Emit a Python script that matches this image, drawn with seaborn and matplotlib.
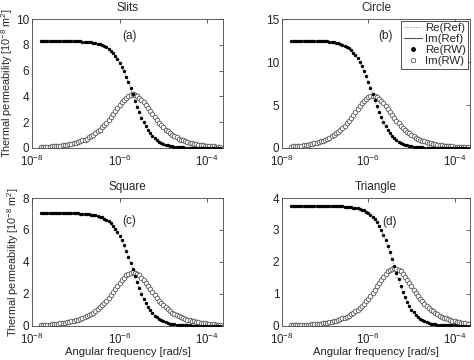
import numpy as np
import matplotlib
matplotlib.use("Agg")
import matplotlib.pyplot as plt
from matplotlib.lines import Line2D
import seaborn as sns

# angular frequency grid, as log10(omega) of each marker
log_omega = [-7.80, -7.75, -7.70, -7.65, -7.60, -7.55, -7.50, -7.45, -7.40, -7.35,
             -7.30, -7.25, -7.20, -7.15, -7.10, -7.05, -7.00, -6.95, -6.90, -6.85,
             -6.80, -6.75, -6.70, -6.65, -6.60, -6.55, -6.50, -6.45, -6.40, -6.35,
             -6.30, -6.25, -6.20, -6.15, -6.10, -6.05, -6.00, -5.95, -5.90, -5.85,
             -5.80, -5.75, -5.70, -5.65, -5.60, -5.55, -5.50, -5.45, -5.40, -5.35,
             -5.30, -5.25, -5.20, -5.15, -5.10, -5.05, -5.00, -4.95, -4.90, -4.85,
             -4.80, -4.75, -4.70, -4.65, -4.60, -4.55, -4.50, -4.45, -4.40, -4.35,
             -4.30, -4.25, -4.20, -4.15, -4.10, -4.05, -4.00, -3.95, -3.90, -3.85,
             -3.80, -3.75, -3.70]

# thermal permeability, 1e-8 m^2
slits_re = [8.30, 8.30, 8.30, 8.30, 8.30, 8.30, 8.30, 8.30, 8.30, 8.29,
            8.29, 8.29, 8.29, 8.29, 8.29, 8.28, 8.28, 8.27, 8.27, 8.26,
            8.25, 8.23, 8.22, 8.20, 8.17, 8.14, 8.10, 8.05, 7.98, 7.90,
            7.81, 7.69, 7.55, 7.37, 7.16, 6.92, 6.63, 6.31, 5.94, 5.53,
            5.09, 4.63, 4.15, 3.67, 3.21, 2.77, 2.36, 1.99, 1.67, 1.38,
            1.14, 0.93, 0.75, 0.61, 0.49, 0.40, 0.32, 0.25, 0.20, 0.16,
            0.13, 0.10, 0.08, 0.07, 0.05, 0.04, 0.03, 0.03, 0.02, 0.02,
            0.01, 0.01, 0.01, 0.01, 0.01, 0.00, 0.00, 0.00, 0.00, 0.00,
            0.00, 0.00, 0.00]
slits_im = [0.07, 0.07, 0.08, 0.09, 0.10, 0.12, 0.13, 0.15, 0.17, 0.19,
            0.21, 0.23, 0.26, 0.29, 0.33, 0.37, 0.42, 0.47, 0.52, 0.58,
            0.65, 0.73, 0.82, 0.92, 1.03, 1.15, 1.28, 1.43, 1.59, 1.77,
            1.96, 2.17, 2.39, 2.62, 2.85, 3.09, 3.33, 3.55, 3.74, 3.91,
            4.04, 4.12, 4.15, 4.12, 4.04, 3.91, 3.74, 3.55, 3.33, 3.09,
            2.85, 2.62, 2.39, 2.17, 1.96, 1.77, 1.59, 1.43, 1.28, 1.15,
            1.03, 0.92, 0.82, 0.73, 0.65, 0.58, 0.52, 0.47, 0.42, 0.37,
            0.33, 0.29, 0.26, 0.23, 0.21, 0.19, 0.17, 0.15, 0.13, 0.12,
            0.10, 0.09, 0.08]

circle_re = [12.50, 12.50, 12.50, 12.50, 12.49, 12.49, 12.49, 12.49, 12.49, 12.48,
             12.48, 12.48, 12.47, 12.46, 12.45, 12.44, 12.42, 12.40, 12.38, 12.35,
             12.31, 12.26, 12.19, 12.12, 12.02, 11.90, 11.76, 11.58, 11.36, 11.10,
             10.79, 10.42, 9.99, 9.50, 8.94, 8.33, 7.66, 6.97, 6.25, 5.53,
             4.84, 4.17, 3.56, 3.00, 2.51, 2.08, 1.71, 1.40, 1.14, 0.92,
             0.74, 0.60, 0.48, 0.38, 0.31, 0.25, 0.20, 0.16, 0.12, 0.10,
             0.08, 0.06, 0.05, 0.04, 0.03, 0.03, 0.02, 0.02, 0.01, 0.01,
             0.01, 0.01, 0.01, 0.00, 0.00, 0.00, 0.00, 0.00, 0.00, 0.00,
             0.00, 0.00, 0.00]
circle_im = [0.15, 0.17, 0.19, 0.22, 0.24, 0.27, 0.31, 0.34, 0.39, 0.43,
             0.49, 0.55, 0.61, 0.69, 0.77, 0.86, 0.96, 1.08, 1.21, 1.35,
             1.51, 1.69, 1.89, 2.11, 2.34, 2.60, 2.89, 3.19, 3.51, 3.84,
             4.19, 4.54, 4.89, 5.21, 5.50, 5.75, 5.94, 6.06, 6.10, 6.06,
             5.94, 5.75, 5.50, 5.21, 4.89, 4.54, 4.19, 3.84, 3.51, 3.19,
             2.89, 2.60, 2.34, 2.11, 1.89, 1.69, 1.51, 1.35, 1.21, 1.08,
             0.96, 0.86, 0.77, 0.69, 0.61, 0.55, 0.49, 0.43, 0.39, 0.34,
             0.31, 0.27, 0.24, 0.22, 0.19, 0.17, 0.15, 0.14, 0.12, 0.11,
             0.10, 0.09, 0.08]

square_re = [7.05, 7.05, 7.05, 7.05, 7.05, 7.05, 7.05, 7.05, 7.05, 7.05,
             7.05, 7.04, 7.04, 7.04, 7.04, 7.04, 7.03, 7.03, 7.02, 7.01,
             7.01, 6.99, 6.98, 6.96, 6.94, 6.91, 6.88, 6.83, 6.78, 6.71,
             6.63, 6.53, 6.41, 6.26, 6.09, 5.88, 5.63, 5.36, 5.04, 4.70,
             4.32, 3.93, 3.53, 3.12, 2.73, 2.35, 2.01, 1.69, 1.42, 1.17,
             0.96, 0.79, 0.64, 0.52, 0.42, 0.34, 0.27, 0.22, 0.17, 0.14,
             0.11, 0.09, 0.07, 0.06, 0.04, 0.04, 0.03, 0.02, 0.02, 0.01,
             0.01, 0.01, 0.01, 0.00, 0.00, 0.00, 0.00, 0.00, 0.00, 0.00,
             0.00, 0.00, 0.00]
square_im = [0.05, 0.06, 0.07, 0.08, 0.08, 0.09, 0.11, 0.12, 0.13, 0.15,
             0.17, 0.19, 0.21, 0.24, 0.27, 0.30, 0.34, 0.38, 0.42, 0.47,
             0.53, 0.59, 0.66, 0.74, 0.83, 0.93, 1.04, 1.16, 1.29, 1.43,
             1.58, 1.75, 1.93, 2.11, 2.30, 2.49, 2.68, 2.86, 3.02, 3.16,
             3.26, 3.33, 3.35, 3.33, 3.26, 3.16, 3.02, 2.86, 2.68, 2.49,
             2.30, 2.11, 1.93, 1.75, 1.58, 1.43, 1.29, 1.16, 1.04, 0.93,
             0.83, 0.74, 0.66, 0.59, 0.53, 0.47, 0.42, 0.38, 0.34, 0.30,
             0.27, 0.24, 0.21, 0.19, 0.17, 0.15, 0.13, 0.12, 0.11, 0.09,
             0.08, 0.08, 0.07]

triangle_re = [3.75, 3.75, 3.75, 3.75, 3.75, 3.75, 3.75, 3.75, 3.75, 3.75,
               3.75, 3.75, 3.75, 3.75, 3.75, 3.75, 3.75, 3.75, 3.75, 3.75,
               3.74, 3.74, 3.74, 3.74, 3.74, 3.73, 3.73, 3.72, 3.71, 3.70,
               3.69, 3.68, 3.66, 3.63, 3.61, 3.57, 3.53, 3.47, 3.41, 3.33,
               3.24, 3.13, 3.00, 2.85, 2.68, 2.50, 2.30, 2.09, 1.88, 1.66,
               1.45, 1.25, 1.07, 0.90, 0.75, 0.62, 0.51, 0.42, 0.34, 0.28,
               0.22, 0.18, 0.14, 0.12, 0.09, 0.07, 0.06, 0.05, 0.04, 0.03,
               0.02, 0.02, 0.01, 0.01, 0.01, 0.01, 0.01, 0.00, 0.00, 0.00,
               0.00, 0.00, 0.00]
triangle_im = [0.01, 0.02, 0.02, 0.02, 0.02, 0.03, 0.03, 0.03, 0.04, 0.04,
               0.05, 0.05, 0.06, 0.06, 0.07, 0.08, 0.09, 0.10, 0.11, 0.13,
               0.14, 0.16, 0.18, 0.20, 0.23, 0.25, 0.28, 0.32, 0.36, 0.40,
               0.45, 0.50, 0.56, 0.62, 0.69, 0.77, 0.85, 0.94, 1.04, 1.13,
               1.24, 1.34, 1.44, 1.54, 1.62, 1.70, 1.75, 1.79, 1.80, 1.79,
               1.75, 1.70, 1.62, 1.54, 1.44, 1.34, 1.24, 1.13, 1.04, 0.94,
               0.85, 0.77, 0.69, 0.62, 0.56, 0.50, 0.45, 0.40, 0.36, 0.32,
               0.28, 0.25, 0.23, 0.20, 0.18, 0.16, 0.14, 0.13, 0.11, 0.10,
               0.09, 0.08, 0.07]

titles = ['Slits', 'Circle', 'Square', 'Triangle']
tags = ['(a)', '(b)', '(c)', '(d)']
ylims = [10, 15, 8, 4]
yticks = [[0, 2, 4, 6, 8, 10], [0, 5, 10, 15], [0, 2, 4, 6, 8], [0, 1, 2, 3, 4]]
series = [(slits_re, slits_im), (circle_re, circle_im),
          (square_re, square_im), (triangle_re, triangle_im)]

sns.set_style("white")
plt.rcParams['font.family'] = ['Liberation Sans', 'DejaVu Sans']
plt.rcParams['mathtext.fontset'] = 'custom'
plt.rcParams['mathtext.rm'] = 'Liberation Sans'
plt.rcParams['mathtext.it'] = 'Liberation Sans:italic'
plt.rcParams['font.size'] = 8

omega = 10.0 ** np.array(log_omega)

fig = plt.figure(figsize=(4.74, 3.6), dpi=100)
# axes boxes in figure fractions
boxes = [[0.0675, 0.589, 0.403, 0.358], [0.595, 0.589, 0.397, 0.358],
         [0.0675, 0.095, 0.403, 0.355], [0.595, 0.095, 0.397, 0.355]]
tagpos = [(0.51, 0.87), (0.55, 0.87), (0.51, 0.82), (0.57, 0.81)]

for i in range(4):
    ax = fig.add_axes(boxes[i])
    re, im = series[i]
    sns.lineplot(x=omega, y=re, ax=ax, color='#8a8a8a', linestyle=':', linewidth=0.8, zorder=1)
    sns.lineplot(x=omega, y=im, ax=ax, color='#8a8a8a', linestyle='-', linewidth=0.6, zorder=1)
    sns.scatterplot(x=omega, y=im, ax=ax, marker='o', s=11, facecolor='white',
                    edgecolor='#555555', linewidth=0.6, zorder=2)
    sns.scatterplot(x=omega, y=re, ax=ax, marker='o', s=6, color='black',
                    edgecolor='black', linewidth=0, zorder=3)
    ax.set_xscale('log')
    ax.set_xlim(1e-8, 2.3e-4)
    ax.set_ylim(0, ylims[i])
    ax.set_xticks([1e-8, 1e-6, 1e-4])
    ax.minorticks_off()
    ax.set_yticks(yticks[i])
    ax.tick_params(direction='in', length=3, width=0.5, top=True, right=True,
                   labelsize=8.5, pad=2, colors='#222222')
    ax.tick_params(axis='x', pad=4.5, labelsize=8.3)
    for sp in ax.spines.values():
        sp.set_linewidth(0.6)
        sp.set_color('#444444')
    ax.set_title(titles[i], fontsize=8.5, pad=6)
    ax.text(tagpos[i][0], tagpos[i][1], tags[i], transform=ax.transAxes,
            ha='center', va='center', fontsize=8.5)
    if i in (0, 2):
        ax.set_ylabel('Thermal permeability [10$^{-8}$ m$^{2}$]', fontsize=7.8, labelpad=1)
    else:
        ax.set_ylabel('')
    if i in (2, 3):
        ax.set_xlabel('Angular frequency [rad/s]', fontsize=8.1, labelpad=0)
    else:
        ax.set_xlabel('')
    if i == 1:
        handles = [Line2D([], [], color='#8a8a8a', linestyle=':', linewidth=0.8),
                   Line2D([], [], color='#555555', linestyle='-', linewidth=0.8),
                   Line2D([], [], color='black', marker='o', linestyle='none', markersize=2.5),
                   Line2D([], [], color='#555555', marker='o', linestyle='none', markersize=3.2,
                          markerfacecolor='white', markeredgewidth=0.6)]
        leg = ax.legend(handles, ['Re(Ref)', 'Im(Ref)', 'Re(RW)', 'Im(RW)'],
                        loc='upper right', fontsize=8.2, frameon=True, fancybox=False,
                        framealpha=1, edgecolor='#333333', borderaxespad=0.15,
                        borderpad=0.2, labelspacing=0.1, handlelength=1.6,
                        handletextpad=0.3)
        leg.get_frame().set_linewidth(0.6)

fig.savefig('out.png', dpi=100)
